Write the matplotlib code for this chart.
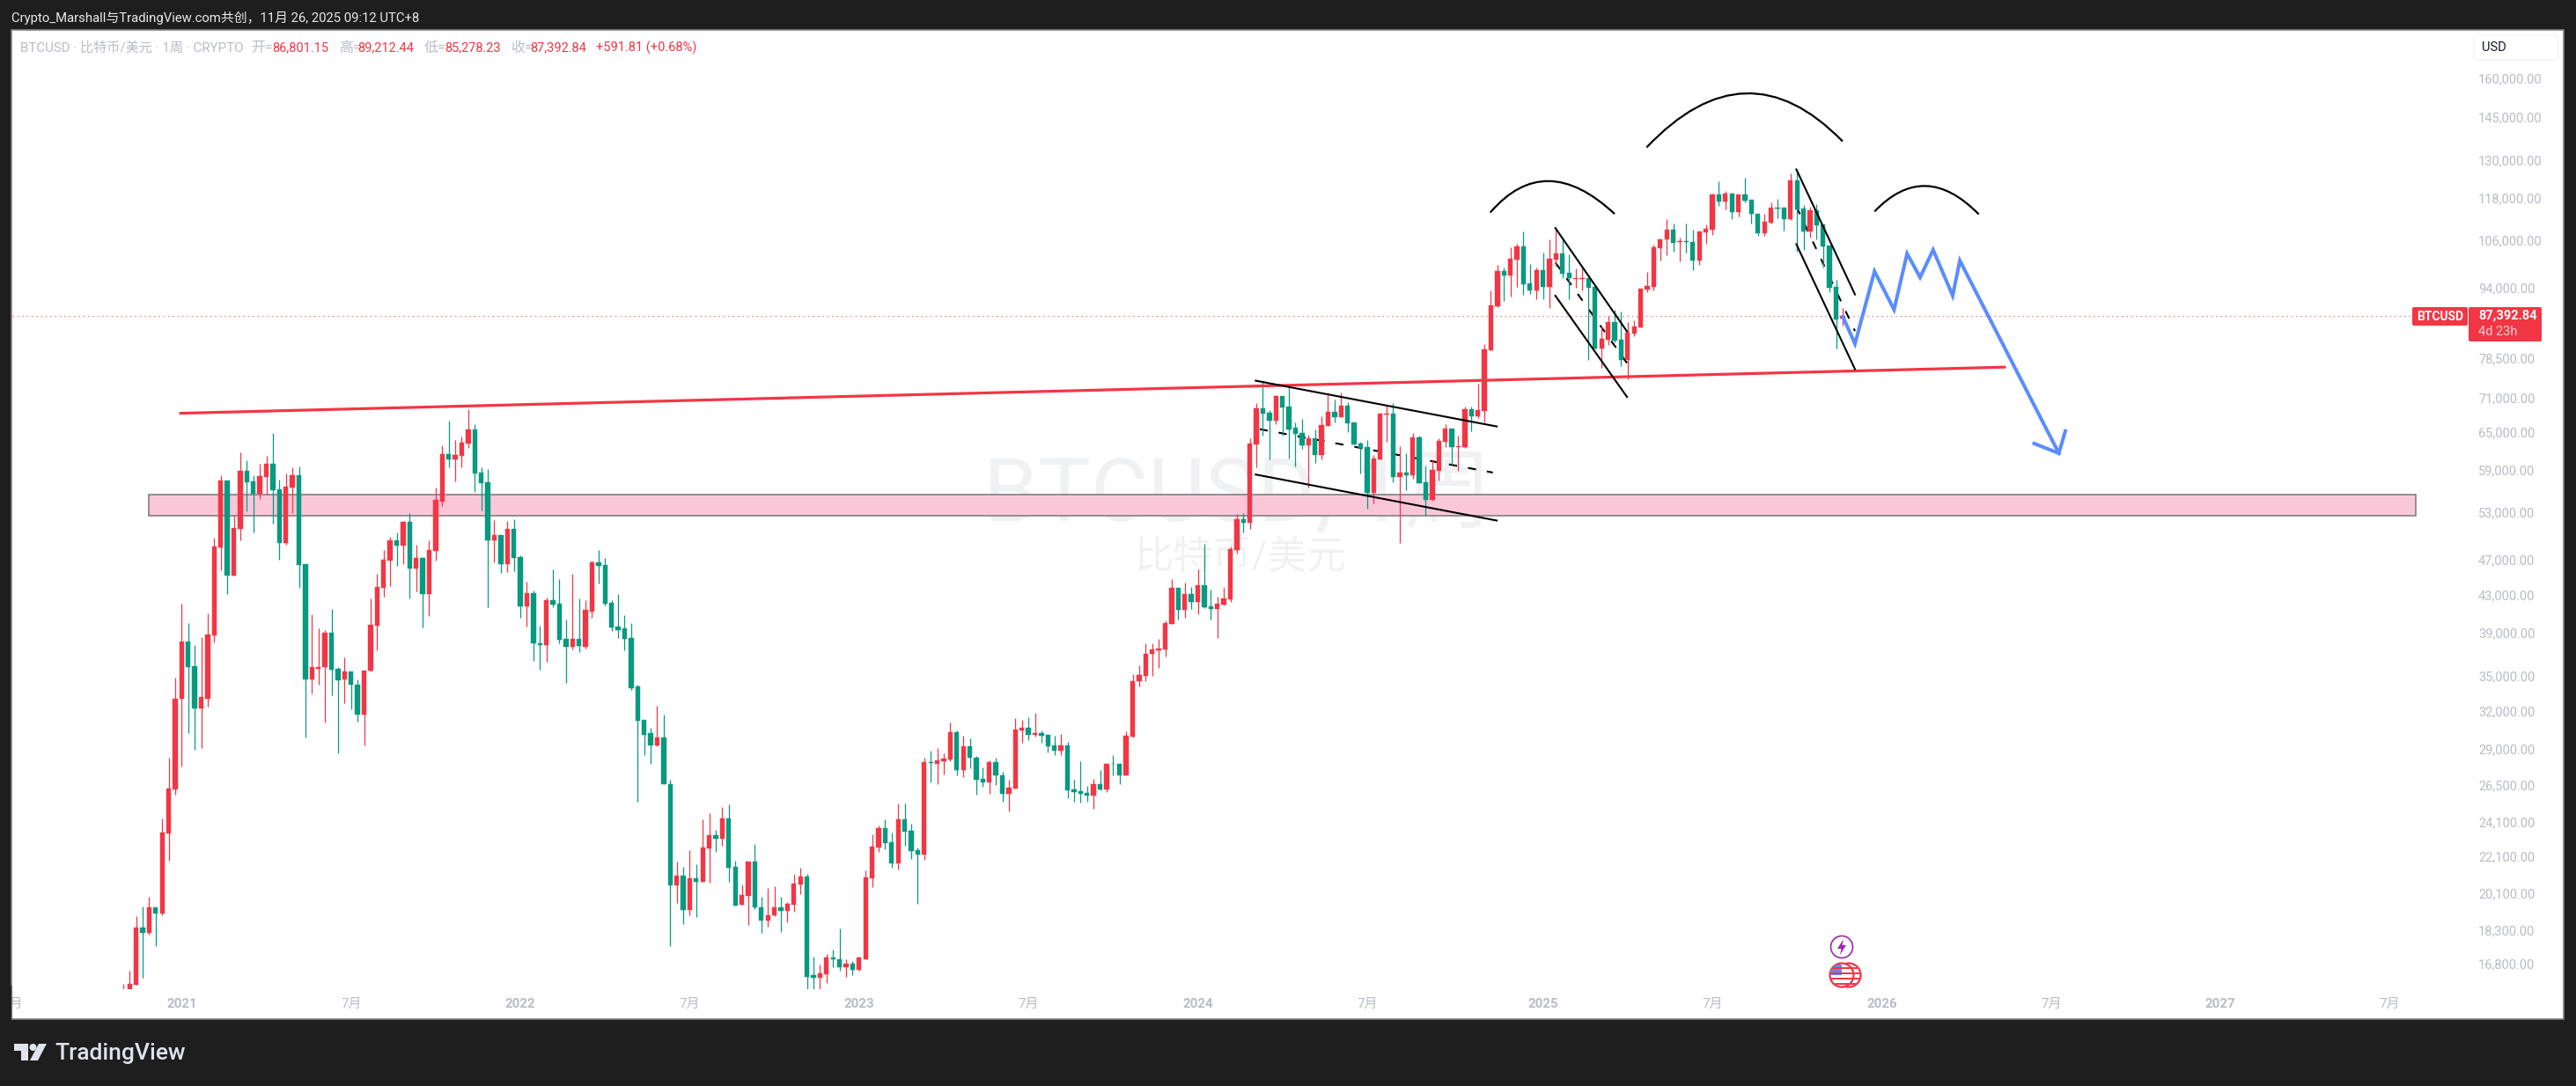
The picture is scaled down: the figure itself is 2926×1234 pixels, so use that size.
import numpy as np
import matplotlib
matplotlib.use("Agg")
import matplotlib.pyplot as plt
from matplotlib.patches import Rectangle, Circle, FancyBboxPatch, PathPatch, Polygon
from matplotlib.path import Path

plt.rcParams['font.family'] = ['Roboto', 'Noto Sans CJK SC', 'DejaVu Sans']

W, H = 2926, 1234

# weekly candles, thousand USD, first bar is index 0
opens = [
    15.5, 15.7, 15.92, 18.4, 18.16, 19.4, 19.1, 23.4, 26.2, 32.95,
    38.1, 35.8, 32.15, 33, 38.75, 48.5, 57.45, 45.1, 50.8, 58.9,
    57.3, 55.6, 58, 60, 56.2, 49.05, 56.5, 58.2, 46.4, 34.65,
    35.6, 35.7, 39, 35.6, 34.65, 35.3, 34.2, 31.65, 35.4, 39.7,
    43.7, 46.85, 49.3, 48.7, 51.75, 45.9, 47.2, 43, 48, 54.5,
    61.5, 60.65, 61.2, 63.15, 65.4, 58.7, 57.2, 49.4, 50, 46.5,
    50.8, 47.3, 41.7, 43.1, 38, 37.8, 42.4, 42, 38.4, 37.6,
    38.4, 37.6, 41.2, 46.7, 46.3, 42.1, 39.6, 39.4, 38.5, 34,
    31.25, 30.2, 29.3, 29.85, 26.55, 20.5, 21, 19.25, 20.85, 20.7,
    22.5, 23.3, 23.1, 24.3, 21.5, 19.5, 19.95, 21.8, 19.4, 18.75,
    19, 19.4, 19.2, 19.5, 20.55, 20.95, 16.3, 16.2, 16.35, 17.05,
    17, 16.65, 16.8, 16.55, 17, 20.85, 22.6, 23.7, 22.9, 21.7,
    24.25, 23.55, 22.4, 22.15, 28.05, 27.95, 28.1, 28.25, 30.3, 27.5,
    29.2, 28.4, 26.9, 26.65, 28.05, 27.15, 25.9, 26.25, 30.4, 30.6,
    30.05, 30.2, 30.05, 29.25, 28.9, 29.25, 26.2, 26.05, 25.95, 25.75,
    26.55, 26.2, 27.95, 27.95, 27.1, 29.95, 34.45, 34.95, 37, 37.3,
    37.4, 39.9, 43.7, 41.3, 43, 42.2, 44, 41.7, 41.4, 41.9,
    42.5, 48.1, 52.1, 51.65, 63, 69.1, 68.25, 66.9, 71.25, 69.4,
    65.7, 64.85, 62.85, 64, 61.35, 66, 68.4, 67.5, 69.55, 66.6,
    63.15, 62.6, 55.7, 60.65, 68, 68.1, 58, 58.7, 58.2, 64.2,
    57.2, 54.7, 58.9, 63.4, 65.55, 62.6, 62.6, 68.95, 67.7, 68.65,
    80.05, 89.55, 97.95, 96.85, 100.9, 104.3, 94.9, 93.2, 98.2, 94.05,
    100.9, 102.5, 97.5, 96, 96, 96.2, 94.05, 80.4, 82.2, 86,
    82.2, 78.1, 83.5, 84.8, 93.4, 94.05, 103.9, 106.2, 108.9, 105.5,
    105.7, 105.5, 100.7, 108.2, 108.9, 119.05, 117, 119.3, 113.9, 119.05,
    117.4, 113.4, 107.9, 110.85, 115.1, 115.1, 111.8, 123.4, 114.9, 108.4,
    114.4, 110.35, 104.55, 94.05, 86.80115,
]
closes = [
    15.6, 15.95, 18.4, 18.16, 19.4, 19.1, 23.45, 26.25, 33, 38.1,
    35.75, 32.15, 33.1, 38.8, 48.6, 57.45, 45.1, 50.9, 58.9, 57.2,
    55.6, 58.1, 60, 56.1, 49.05, 56.6, 58.2, 46.3, 34.65, 35.7,
    35.75, 39, 35.5, 34.55, 35.3, 34.15, 31.65, 35.45, 39.8, 43.8,
    47, 49.3, 48.7, 51.75, 45.9, 47.2, 43, 48.1, 54.7, 61.5,
    60.65, 61.35, 63.3, 65.4, 58.5, 57.05, 49.4, 50, 46.5, 50.8,
    47.2, 41.7, 43.1, 37.95, 37.8, 42.4, 41.9, 38.3, 37.6, 38.4,
    37.7, 41.3, 46.7, 46.2, 42, 39.5, 39.3, 38.4, 33.9, 31.2,
    30.1, 29.3, 29.85, 26.5, 20.5, 21, 19.25, 20.85, 20.7, 22.55,
    23.3, 23.1, 24.3, 21.45, 19.45, 20, 21.8, 19.4, 18.75, 19,
    19.4, 19.2, 19.55, 20.6, 20.95, 16.25, 16.2, 16.4, 17.05, 17,
    16.65, 16.8, 16.55, 17.05, 20.9, 22.65, 23.7, 22.85, 21.7, 24.25,
    23.5, 22.35, 22.15, 28.05, 28, 28.2, 28.3, 30.3, 27.5, 29.2,
    28.35, 26.85, 26.65, 28.05, 27.1, 25.9, 26.3, 30.45, 30.6, 30.05,
    30.2, 30, 29.2, 28.9, 29.25, 26.1, 26, 25.9, 25.75, 26.55,
    26.2, 27.95, 27.9, 27.1, 30, 34.5, 35, 37, 37.4, 37.45,
    40, 43.7, 41.3, 43, 42.2, 44, 41.6, 41.4, 42, 42.6,
    48.3, 52.1, 51.65, 63.15, 69.1, 68.1, 66.9, 71.25, 69.2, 65.5,
    64.7, 62.85, 64, 61.35, 66.2, 68.4, 67.5, 69.55, 66.45, 63,
    62.45, 55.7, 60.8, 68.1, 68.1, 58, 58.7, 58.2, 64.2, 57.05,
    54.7, 59, 63.55, 65.55, 62.6, 62.7, 68.95, 67.7, 68.8, 80.2,
    89.8, 97.95, 96.85, 101.1, 104.3, 94.65, 93.2, 98.2, 94.05, 101.1,
    102.5, 97.3, 96.2, 96.2, 96.2, 93.85, 80.4, 82.4, 86, 82.05,
    78.1, 83.7, 85, 93.6, 94.25, 104.1, 106.2, 108.9, 105.2, 105.7,
    105.5, 100.7, 108.4, 109.1, 119.05, 117, 119.3, 113.9, 119.05, 117.2,
    113.2, 107.9, 111.1, 115.1, 114.9, 111.8, 123.4, 114.6, 108.4, 114.4,
    110, 104.3, 93.85, 86.6, 87.39284,
]
highs = [
    15.95, 16.5, 18.94, 19.43, 19.9, 19.4, 24.3, 28.35, 34.8, 42,
    40, 37.8, 38.55, 41, 49.7, 58.3, 57.45, 52.6, 61.7, 60.5,
    58.3, 60, 61.2, 64.85, 57.6, 58.5, 59.5, 59.6, 46.4, 40.9,
    39.4, 39.3, 41.4, 35.75, 36.65, 35.3, 34.65, 35.45, 42.6, 45.3,
    48.1, 49.8, 50.4, 51.85, 52.9, 48.8, 47.3, 49.3, 56.5, 62.85,
    66.9, 63.7, 64.3, 68.9, 66.3, 59.5, 59.2, 52, 50, 51.85,
    52.1, 47.5, 44.4, 43.4, 39.7, 42.7, 45.8, 44.7, 40.3, 45.3,
    42.6, 42.4, 46.85, 48.1, 47.2, 42.4, 43, 40.8, 40, 34.15,
    31.25, 30.6, 32.35, 31.7, 26.85, 21.8, 21.5, 22.4, 21.65, 24.25,
    24.65, 23.6, 25, 25.2, 21.85, 20.55, 21.8, 22.8, 19.9, 20.35,
    20.45, 19.9, 19.65, 21.1, 21.45, 21.1, 17.1, 16.75, 17.2, 17.4,
    18.35, 17, 16.9, 17.1, 21.3, 23.35, 23.9, 24.25, 23.45, 25.25,
    25.25, 24, 22.55, 28.4, 28.9, 29.1, 28.7, 31, 30.4, 30,
    29.8, 28.5, 27.7, 28.2, 28.4, 27.35, 26.8, 31.4, 31.25, 31.45,
    31.8, 30.4, 30.05, 30, 30.15, 29.55, 26.8, 28.1, 26.4, 26.9,
    27.5, 28, 28.55, 28, 30.35, 35.1, 35.9, 37.95, 37.95, 38.4,
    40.2, 44.7, 43.7, 44.3, 43.8, 45.8, 48.9, 43.5, 42.8, 43.8,
    48.6, 52.8, 52.9, 64, 70, 74, 68.8, 71.5, 71.25, 73.2,
    66.7, 67.2, 64.55, 65.4, 67.7, 71.85, 70.6, 71.85, 70.15, 66.7,
    63.4, 63.7, 61.35, 68.25, 69.55, 70, 62.7, 61.6, 64.85, 64.4,
    59.7, 60.65, 64, 66.3, 65.55, 64.4, 69.4, 69.4, 73.55, 81.3,
    93.2, 99.5, 98.85, 104.1, 105, 108.4, 99.7, 98.85, 102.7, 106.2,
    109.3, 106.45, 102.2, 98.6, 99.3, 96.4, 94.25, 85.2, 87.4, 88.8,
    88.4, 86, 86.45, 93.6, 97.7, 104.8, 106.45, 111.8, 110.6, 106.7,
    110.6, 108.9, 108.4, 110.35, 119.3, 123.1, 120.2, 119.6, 119.05, 124.2,
    117.4, 113.4, 113.4, 116.7, 117.6, 115.4, 125.6, 126.3, 116, 115.4,
    116.2, 110.35, 104.55, 95.75, 89.21244,
]
lows = [
    15.3, 15.7, 15.9, 16.2, 18.08, 17.55, 19, 21.85, 25.8, 27.75,
    30.2, 28.95, 29.1, 32.3, 38.05, 45.7, 43, 45.1, 49.3, 53.1,
    50.4, 54.85, 55.4, 51.5, 47, 48.8, 52.9, 43.7, 29.9, 33.4,
    34.15, 31, 33.3, 28.7, 32.6, 32.1, 31.1, 29.25, 35.3, 37.3,
    42.8, 43.95, 46.2, 46.4, 42.6, 43.3, 39.5, 40.7, 46.85, 53.85,
    59.5, 57.3, 59.5, 62.45, 55.8, 53.2, 41.6, 46.7, 45.4, 45.5,
    45.6, 40.5, 39.6, 36.3, 35.5, 36.2, 41.6, 37.95, 34.3, 37.4,
    37.1, 37.5, 40.5, 44.2, 41.8, 39.2, 38.5, 37.3, 33.7, 25.35,
    28.55, 27.9, 29.2, 26.5, 17.55, 19.6, 18.57, 19, 18.9, 20.7,
    20.65, 22.3, 22.7, 20.7, 19.45, 19.5, 18.55, 19.3, 18.15, 18.45,
    18.95, 18.2, 18.65, 19.15, 20.05, 15.5, 15.75, 15.7, 16, 16.65,
    16.5, 16.25, 16.3, 16.5, 17, 20.4, 22.3, 22.45, 21.45, 21.35,
    22.7, 21.95, 19.55, 21.9, 26.65, 26.55, 27.2, 28.15, 27.15, 27,
    27.6, 25.8, 26.35, 25.9, 26.45, 25.35, 24.75, 26.25, 29.45, 29.7,
    29.95, 29.5, 28.75, 28.55, 28.55, 25.6, 25.35, 25.3, 25.35, 24.9,
    26.1, 26, 27.15, 26.55, 27.1, 29.85, 34.05, 34.5, 34.95, 35.65,
    36.75, 39.9, 40.3, 40.5, 41.4, 40.9, 41.5, 40.3, 38.5, 41.8,
    42.2, 47.7, 50.4, 50.8, 59.5, 64.4, 60.65, 66.3, 64.4, 60.8,
    59.6, 62.3, 56.5, 60.1, 60.65, 66, 66.6, 67.5, 64.95, 63,
    58.5, 53.45, 54.25, 60.65, 63.4, 57.2, 49.05, 56.1, 57.75, 57.05,
    52.6, 54.6, 57.45, 62.6, 59.85, 58.9, 62.45, 65.1, 67.4, 66.7,
    80.05, 89.35, 90.8, 91.8, 94.05, 92.2, 92.4, 91.2, 91.2, 89.2,
    99.3, 96.2, 91.2, 93.85, 93.2, 78.1, 80.4, 76.55, 81.15, 81.7,
    76.95, 74.35, 82.9, 84.8, 92.8, 93.2, 100.7, 102, 102.9, 100.5,
    102.7, 98.2, 99.5, 105, 107.4, 115.7, 114.6, 111.8, 112.6, 116.7,
    110.6, 107.2, 107.2, 110.6, 112.1, 108.65, 111.5, 102.9, 103.4, 106.7,
    106.2, 98.85, 92.8, 80.4, 85.27823,
]

# axis labels
price_ticks = [160000, 145000, 130000, 118000, 106000, 94000, 78500, 71000, 65000,
               59000, 53000, 47000, 43000, 39000, 35000, 32000, 29000, 26500, 24100,
               22100, 20100, 18300, 16800]
time_ticks = [-17, 9, 35, 61, 87, 113, 139, 165, 191, 218, 244, 270, 296, 322, 348]
time_labels = ['7月', '2021', '7月', '2022', '7月', '2023', '7月', '2024', '7月',
               '2025', '7月', '2026', '7月', '2027', '7月']

last_price = 87392.84

# drawings, x in bars and y in USD thousand
zone_x = [4.0, 352.0]
zone_y = [52.5, 55.4]
resist_x = [8.8, 288.9]
resist_y = [68.2, 76.7]
channels = [
    ([173.9, 210.9], [74.1, 65.95], [58.35, 51.9]),
    ([219.9, 230.9], [109.3, 84.0], [92.0, 71.1]),
    ([256.9, 265.9], [126.9, 92.3], [104.9, 76.3]),
]
mid_lines = [
    ([174.5, 210.3], [65.5, 58.65]),
    ([219.9, 230.9], [100.1, 77.5]),
    ([256.9, 265.9], [115.4, 84.1]),
]
arcs = [
    ([209.9, 218.3, 229.0], [113.7, 133.7, 113.3]),
    ([233.9, 249.2, 264.0], [134.2, 175.4, 136.3]),
    ([268.9, 276.6, 284.9], [114.0, 130.3, 113.2]),
]
path_x = [264.05, 265.9, 268.9, 271.9, 273.9, 275.9, 277.9, 280.9, 282.0, 297.2]
path_y = [87.2, 81.4, 97.9, 88.8, 102.4, 96.4, 103.4, 92.0, 100.6, 61.6]
barb_x = [293.4, 297.2, 298.2]
barb_y = [63.15, 61.6, 65.2]

RED = '#f23645'
GREEN = '#089981'
BLUE = '#5b8cff'
DARK = '#1e1e1e'
GREY = '#b9bcc5'

assert len(opens) == len(closes) == len(highs) == len(lows) == 265


def px_axes(zorder):
    a = fig.add_axes([0, 0, 1, 1], zorder=zorder)
    a.set_xlim(0, W)
    a.set_ylim(H, 0)
    a.axis('off')
    a.patch.set_alpha(0)
    return a


fig = plt.figure(figsize=(W / 100, H / 100), dpi=100, facecolor=DARK)

back = px_axes(0)
back.add_patch(Rectangle((13, 34), 2899, 1124, fc='white', ec='#808080', lw=1.2))
back.text(1406, 592, 'BTCUSD, 1周', fontsize=72, color='#f0f1f3', ha='center', va='baseline')
back.text(1409, 634, '比特币/美元', fontsize=32, color='#f0f1f3', ha='center', va='center')

ax = fig.add_axes([14 / W, 1 - 1124 / H, (2805 - 14) / W, (1124 - 35) / H], zorder=1)
ax.patch.set_alpha(0)
for s in ax.spines.values():
    s.set_visible(False)

xs = np.arange(len(opens))
o = np.array(opens) * 1000
c = np.array(closes) * 1000
hi = np.array(highs) * 1000
lo = np.array(lows) * 1000
cols = [RED if b >= a else GREEN for a, b in zip(o, c)]

ax.set_yscale('log')
ax.vlines(xs, lo, hi, colors=cols, lw=0.9, zorder=3)
ax.bar(xs, np.abs(c - o), bottom=np.minimum(o, c), width=0.72, color=cols,
       edgecolor=cols, linewidth=0.3, zorder=3.1)

# pink zone
ax.add_patch(Rectangle((zone_x[0], zone_y[0] * 1000), zone_x[1] - zone_x[0],
                       (zone_y[1] - zone_y[0]) * 1000, fc='#fac7d9', ec='#777777',
                       lw=1.1, zorder=1))
ax.axhline(last_price, color=RED, lw=0.7, ls=(0, (1.5, 4)), alpha=0.8, zorder=2)

ax.plot(resist_x, np.array(resist_y) * 1000, color=RED, lw=2.3, zorder=4,
        solid_capstyle='round')
for cx, top, bot in channels:
    ax.plot(cx, np.array(top) * 1000, color='black', lw=1.5, zorder=4)
    ax.plot(cx, np.array(bot) * 1000, color='black', lw=1.5, zorder=4)
for cx, cy in mid_lines:
    ax.plot(cx, np.array(cy) * 1000, color='black', lw=1.5, ls=(0, (4.5, 6)), zorder=2.5)
for ax_x, ax_y in arcs:
    verts = list(zip(ax_x, np.array(ax_y) * 1000))
    ax.add_patch(PathPatch(Path(verts, [Path.MOVETO, Path.CURVE3, Path.CURVE3]),
                           fc='none', ec='black', lw=1.6, zorder=4))
ax.plot(path_x, np.array(path_y) * 1000, color=BLUE, lw=2.9, zorder=5, solid_joinstyle='miter')
ax.plot(barb_x, np.array(barb_y) * 1000, color=BLUE, lw=2.9, zorder=5, solid_joinstyle='miter')

ax.set_xlim((14 - 137.4) / 7.405, (2805 - 137.4) / 7.405)
ax.set_ylim(15738, 180600)

ax.minorticks_off()
ax.yaxis.tick_right()
ax.set_yticks(price_ticks)
ax.set_yticklabels([f'{p:,.2f}' for p in price_ticks])
ax.yaxis.set_minor_locator(matplotlib.ticker.NullLocator())
ax.tick_params(axis='y', length=0, pad=7.2, labelsize=10.5, labelcolor=GREY)
ax.set_xticks(time_ticks)
ax.set_xticklabels(time_labels)
ax.tick_params(axis='x', length=0, pad=7.2, labelsize=10.8, labelcolor=GREY)
for t, lab in zip(ax.get_xticklabels(), time_labels):
    if lab != '7月':
        t.set_fontweight('bold')

front = px_axes(2)
# the first month label is cut by the pane edge
front.add_patch(Rectangle((0, 1120), 12.5, 45, fc=DARK, ec='none'))
front.plot([13, 13], [1120, 1158], color='#808080', lw=0.9)

front.text(13, 20.5, 'Crypto_Marshall与TradingView.com共创，11月 26, 2025 09:12 UTC+8',
           fontsize=10.7, color='#e8e8e8', va='center')

front.text(23, 54, 'BTCUSD · 比特币/美元 · 1周 · CRYPTO', fontsize=10.9, color=GREY, va='center')
legend_parts = [(285, '开=', 309, '86,801.15'), (385, '高=', 406, '89,212.44'),
                (482, '低=', 505, '85,278.23'), (580, '收=', 602, '87,392.84')]
for x0, name, x1, val in legend_parts:
    front.text(x0, 54, name, fontsize=11.5, color=GREY, va='center')
    front.text(x1, 54, val, fontsize=10.5, color=RED, va='center')
front.text(677, 54, '+591.81 (+0.68%)', fontsize=10.5, color=RED, va='center')

front.add_patch(FancyBboxPatch((2810, 40), 96, 28, boxstyle='round,pad=0,rounding_size=5',
                               fc='white', ec='#f0f3fa', lw=1))
front.text(2819, 54, 'USD', fontsize=10.5, color='#131722', va='center')

front.add_patch(FancyBboxPatch((2740, 349), 63, 21, boxstyle='round,pad=0,rounding_size=2',
                               fc=RED, ec='none'))
front.text(2771.5, 359.5, 'BTCUSD', fontsize=10, color='white', weight='bold', ha='center', va='center')
front.add_patch(FancyBboxPatch((2804, 349), 83, 39, boxstyle='round,pad=0,rounding_size=2',
                               fc=RED, ec='none'))
front.text(2815, 358.5, f'{last_price:,.2f}', fontsize=10.5, color='white', weight='bold', va='center')
front.text(2815, 377, '4d 23h', fontsize=10.5, color='#fbd0d4', va='center')

# event icons
front.add_patch(Circle((2092, 1076), 12.5, fc='white', ec='#9c27b0', lw=1.2))
front.add_patch(Polygon([(2094, 1067), (2087, 1078), (2091.5, 1078), (2090, 1085),
                         (2097, 1074), (2092.5, 1074)], fc='#9c27b0', ec='none'))
for cx in (2100, 2092):
    flag = Circle((cx, 1108), 13.5, fc='white', ec=RED, lw=1.6)
    front.add_patch(flag)
    for yy in (1100, 1106, 1112, 1118):
        ln, = front.plot([cx - 14, cx + 14], [yy, yy], color=RED, lw=1.4)
        ln.set_clip_path(flag)
    blue = Rectangle((cx - 13, 1096), 13, 12, fc=BLUE, ec='none')
    front.add_patch(blue)
    blue.set_clip_path(flag)

# TradingView logo
front.add_patch(Polygon([(16, 1186), (32, 1186), (32, 1205), (24, 1205), (24, 1194), (16, 1194)],
                        fc='#e0e3eb', ec='none'))
front.add_patch(Circle((37.5, 1190), 4, fc='#e0e3eb', ec='none'))
front.add_patch(Polygon([(44, 1186), (53, 1186), (43, 1205), (34, 1205)], fc='#e0e3eb', ec='none'))
front.text(62, 1197, 'TradingView', fontsize=19, color='#e0e3eb', weight='medium', va='center')

fig.savefig('out.png', dpi=100, facecolor=DARK)
